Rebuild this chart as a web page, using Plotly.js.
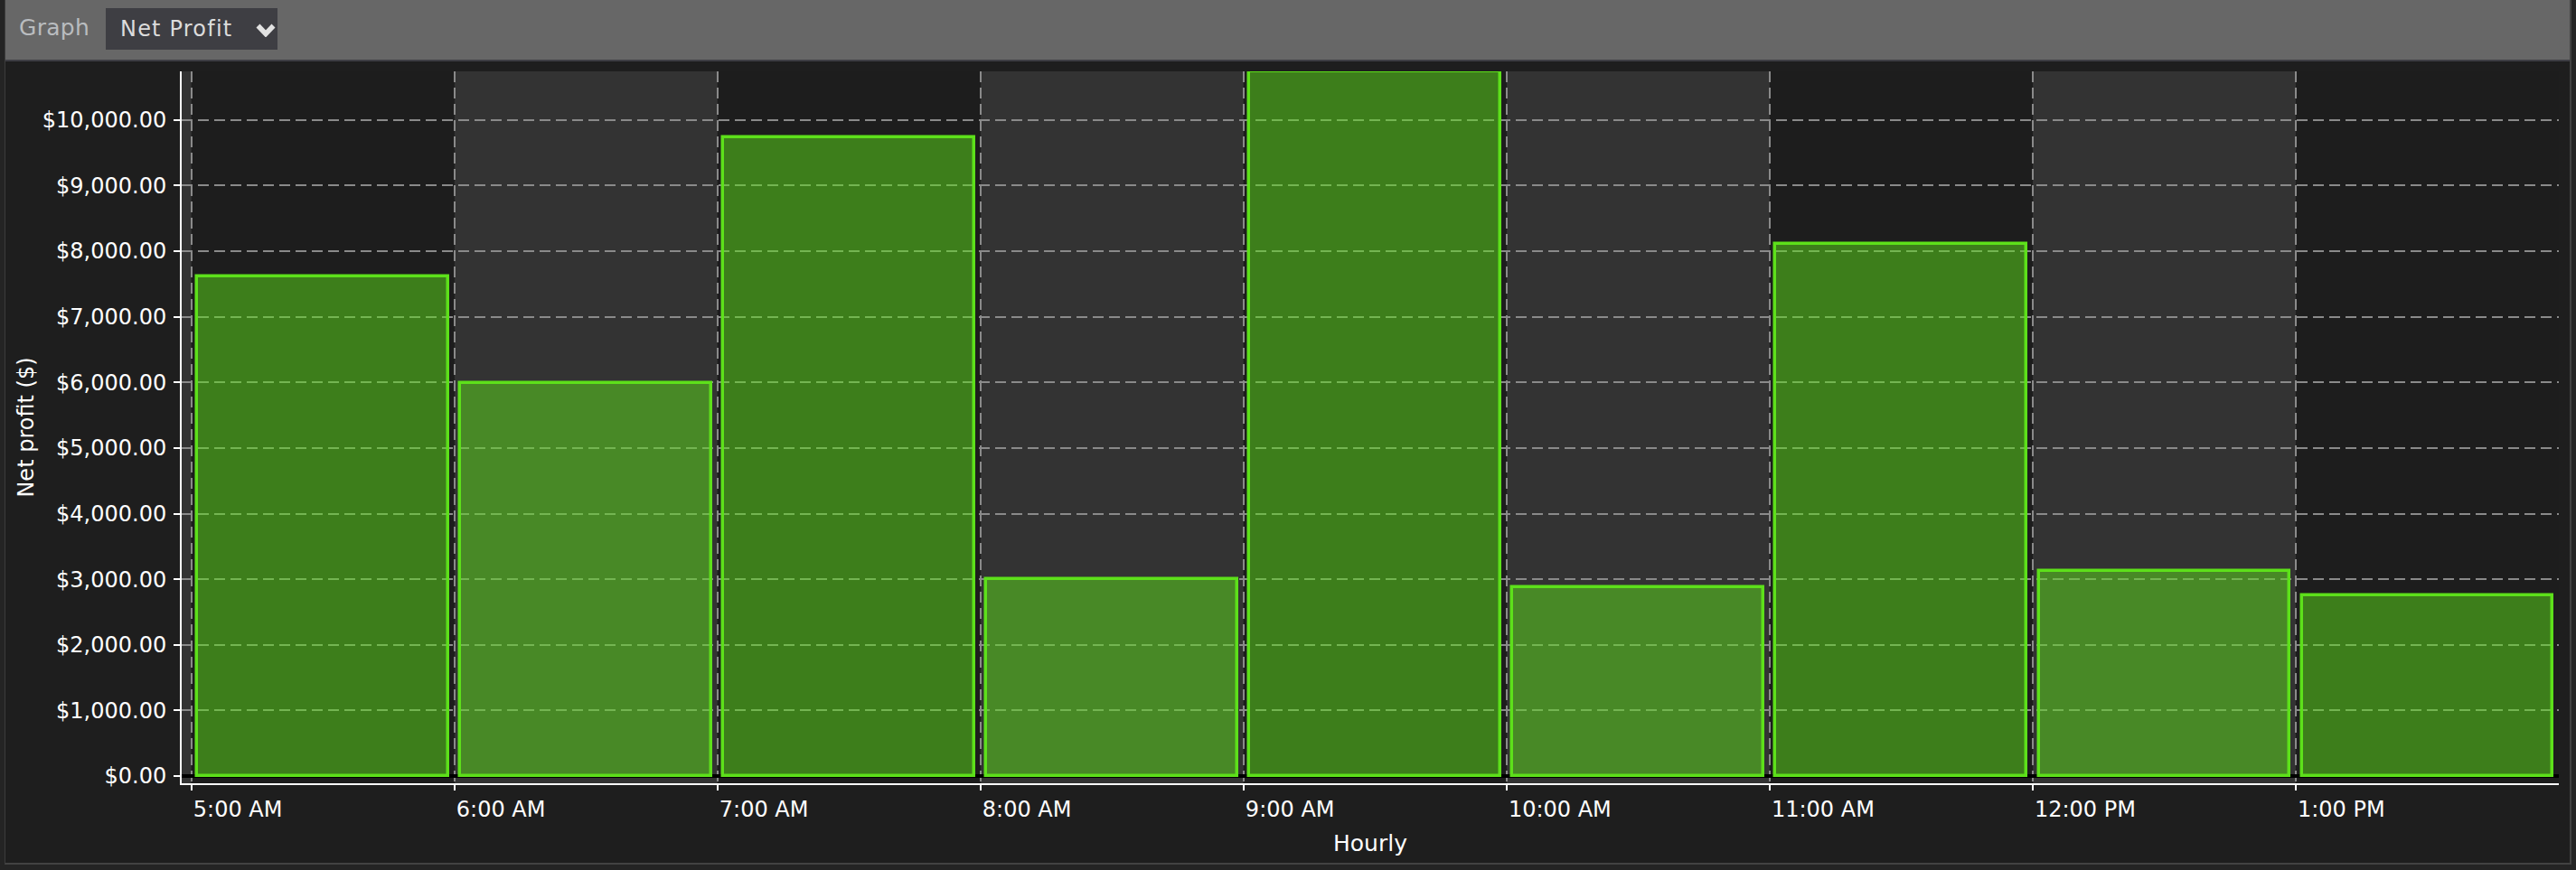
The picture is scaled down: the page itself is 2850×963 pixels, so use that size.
<!DOCTYPE html>
<html>
<head>
<meta charset="utf-8">
<script src="https://cdn.plot.ly/plotly-3.0.1.min.js"></script>
<style>
  html, body { margin: 0; padding: 0; width: 2850px; height: 963px; overflow: hidden; background: #242424; }
  #panel { position: absolute; left: 5px; top: 0; width: 2837px; height: 955px; background: #1e1e1e; border-left: 1px solid #3c3c3c; border-right: 2px solid #424242; border-bottom: 2px solid #424242; }
  #header { position: absolute; left: 6px; top: 0; width: 2837px; height: 66px; background: #676767; border-bottom: 2px solid #3e3e44; z-index: 5; font-family: 'DejaVu Sans', sans-serif; }
  #graphLabel { position: absolute; left: 15px; top: 16px; font-size: 25px; line-height: 30px; color: #b9bcbf; letter-spacing: 0.3px; }
  #dropdown { position: absolute; left: 111px; top: 9px; width: 190px; height: 46px; background: #3e3e43; }
  #dropText { position: absolute; left: 16px; top: 8px; font-size: 24px; line-height: 30px; color: #dcdcdc; letter-spacing: 1.2px; }
  #chev { position: absolute; left: 166px; top: 17px; }
  #chart { position: absolute; left: 0; top: 0; width: 2850px; height: 963px; z-index: 2; }
</style>
</head>
<body>
<div id="panel"></div>
<div id="header">
  <div id="graphLabel">Graph</div>
  <div id="dropdown">
    <div id="dropText">Net Profit</div>
    <svg id="chev" width="22" height="15" viewBox="0 0 22 15"><path d="M2.5,2.5 L11,11.5 L19.5,2.5" fill="none" stroke="#e2e2e2" stroke-width="5.5" stroke-linecap="butt" stroke-linejoin="miter"/></svg>
  </div>
</div>
<div id="chart"></div>
<script>
// ---- data ----
const hours = ['5:00 AM', '6:00 AM', '7:00 AM', '8:00 AM', '9:00 AM', '10:00 AM', '11:00 AM', '12:00 PM', '1:00 PM'];
const netProfit = [7620, 5995, 9740, 2995, 10740, 2875, 8115, 3125, 2750];
const yTickValues = [0, 1000, 2000, 3000, 4000, 5000, 6000, 7000, 8000, 9000, 10000];
const xTitle = 'Hourly';
const yTitle = 'Net profit ($)';

// ---- build ----
const idx = hours.map((h, i) => i);
const barX = idx.map(i => i + 0.5);

const bandShapes = [];
for (let i = -1; i < hours.length; i++) {
  if (Math.abs(i) % 2 === 1) {
    bandShapes.push({
      type: 'rect', xref: 'x', yref: 'paper',
      x0: i, x1: i + 1, y0: 0, y1: 1,
      fillcolor: '#333333', line: { width: 0 }, layer: 'below'
    });
  }
}

const trace = {
  type: 'bar',
  x: barX,
  y: netProfit,
  customdata: hours,
  hovertemplate: '%{customdata}: %{y:$,.2f}<extra></extra>',
  width: 0.955,
  marker: {
    color: 'rgba(94,224,26,0.5)',
    line: { color: '#5de01a', width: 3.5 }
  }
};

const fontFamily = "'DejaVu Sans', sans-serif";
const layout = {
  width: 2850,
  height: 963,
  margin: { l: 201, r: 19, t: 79, b: 96, pad: 0 },
  paper_bgcolor: 'rgba(0,0,0,0)',
  plot_bgcolor: '#1d1d1d',
  showlegend: false,
  bargap: 0,
  font: { family: fontFamily, color: '#ffffff', size: 25 },
  shapes: bandShapes,
  xaxis: {
    range: [-0.037, 9.0],
    tickmode: 'array',
    tickvals: idx,
    ticktext: hours,
    ticks: 'outside',
    ticklen: 6,
    tickwidth: 2,
    tickcolor: '#ffffff',
    ticklabelposition: 'outside right',
    ticklabelstandoff: 6,
    tickfont: { family: fontFamily, size: 24, color: '#ffffff' },
    showline: true,
    linecolor: '#ffffff',
    linewidth: 2,
    showgrid: true,
    gridcolor: '#8a8a8a',
    gridwidth: 2,
    griddash: '12px,6px',
    zeroline: false,
    fixedrange: true,
    title: { text: xTitle, font: { family: fontFamily, size: 25, color: '#ffffff' }, standoff: 16 }
  },
  yaxis: {
    range: [-110, 10740],
    tickmode: 'array',
    tickvals: yTickValues,
    tickformat: '$,.2f',
    ticks: 'outside',
    ticklen: 7,
    tickwidth: 2,
    tickcolor: '#ffffff',
    ticklabelstandoff: 3,
    tickfont: { family: fontFamily, size: 24, color: '#ffffff' },
    showline: true,
    linecolor: '#ffffff',
    linewidth: 2,
    showgrid: true,
    gridcolor: '#8a8a8a',
    gridwidth: 2,
    griddash: '12px,6px',
    zeroline: true,
    zerolinecolor: '#000000',
    zerolinewidth: 4,
    fixedrange: true,
    title: { text: yTitle, font: { family: fontFamily, size: 24, color: '#ffffff' }, standoff: 2 }
  }
};

Plotly.newPlot('chart', [trace], layout, { displayModeBar: false, responsive: false });
</script>
</body>
</html>
